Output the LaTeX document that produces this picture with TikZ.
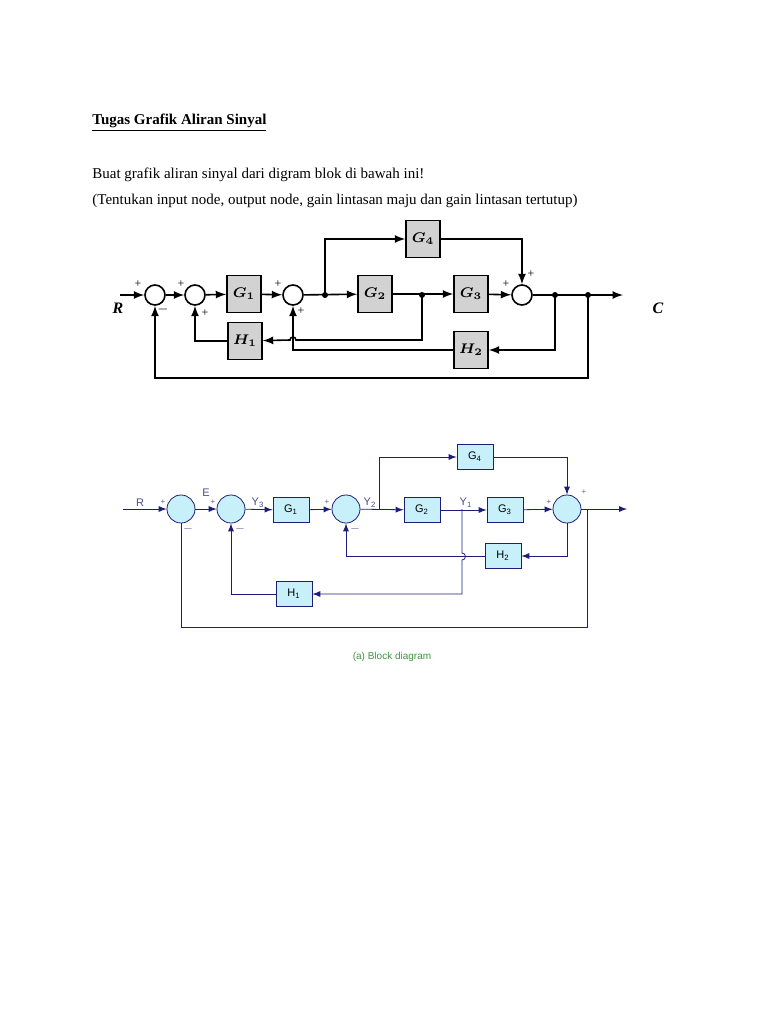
\documentclass[tikz,border=0pt]{standalone}
\usepackage{fontspec}
\setmainfont{Liberation Serif}
\newfontfamily\sansf{Liberation Sans}
\usetikzlibrary{arrows}
\definecolor{navy}{RGB}{30,30,120}
\definecolor{lcyan}{RGB}{200,240,250}
\definecolor{capgreen}{RGB}{60,150,60}
\tikzset{
    sumA/.style={circle,draw=black,thick,minimum size=10pt,inner sep=0pt},
    blkA/.style={draw=black,thick,fill=gray!35,minimum width=17pt,minimum height=18.5pt,inner sep=0pt,font=\boldmath\fontsize{7}{8}\selectfont},
    sigA/.style={black,thick,-latex},
    lnA/.style={black,thick},
    sumB/.style={circle,draw=navy,fill=lcyan,minimum size=14pt,inner sep=0pt},
    blkB/.style={draw=navy,fill=lcyan,minimum width=18pt,minimum height=12.5pt,inner sep=0pt,font=\sansf\fontsize{5.5}{6}\selectfont},
    sigB/.style={navy,-latex},
    lnB/.style={navy},
    sgn/.style={inner sep=0pt,font=\fontsize{6}{6}\selectfont},
    sgnB/.style={inner sep=0pt,font=\sansf\fontsize{4}{4}\selectfont,text=navy!70},
    lblB/.style={inner sep=0pt,font=\sansf\fontsize{5.5}{6}\selectfont,text=navy!80}
}
\begin{document}
\begin{tikzpicture}[x=0.5pt,y=-0.5pt]
\useasboundingbox (0,0) rectangle (768,1024);
\fill[white] (0,0) rectangle (768,1024);

% texts
\node[anchor=base west,inner sep=0pt,font=\bfseries\fontsize{7.5}{8}\selectfont] (title) at (92,124) {\underline{Tugas Grafik Aliran Sinyal}};
\node[anchor=base west,inner sep=0pt,font=\fontsize{7.5}{8}\selectfont] (line1) at (92,178) {Buat grafik aliran sinyal dari digram blok di bawah ini!};
\node[anchor=base west,inner sep=0pt,font=\fontsize{7.5}{8}\selectfont] (line2) at (92,204) {(Tentukan input node, output node, gain lintasan maju dan gain lintasan tertutup)};

% upper diagram
\node[sumA] (a1) at (155,295) {};
\node[sumA] (a2) at (195,295) {};
\node[sumA] (a3) at (293,295) {};
\node[sumA] (a4) at (522,295) {};
\node[blkA] (ag1) at (244,294) {$G_1$};
\node[blkA] (ag2) at (375,294) {$G_2$};
\node[blkA] (ag3) at (471,294) {$G_3$};
\node[blkA] (ag4) at (423,239) {$G_4$};
\node[blkA] (ah1) at (245,341) {$H_1$};
\node[blkA] (ah2) at (471,350) {$H_2$};
\coordinate (aR) at (120,295);
\coordinate (aC) at (623,295);
\coordinate (ab1) at (325,295);
\coordinate (ab2) at (422,295);
\coordinate (ab3) at (555,295);
\coordinate (ab4) at (588,295);
\node[inner sep=0pt,font=\bfseries\itshape\fontsize{8}{8}\selectfont] (lR) at (118,308) {R};
\node[inner sep=0pt,font=\bfseries\itshape\fontsize{8}{8}\selectfont] (lC) at (658,308) {C};

\draw[sigA] (aR) -- (a1);
\draw[sigA] (a1) -- (a2);
\draw[sigA] (a2) -- (ag1);
\draw[sigA] (ag1) -- (a3);
\draw[sigA] (a3) -- (ag2);
\draw[sigA] (ag2) -- (ag3);
\draw[sigA] (ag3) -- (a4);
\draw[sigA] (a4) -- (aC);
\draw[sigA] (ab1) |- (ag4);
\draw[sigA] (ag4) -| (a4);
\draw[sigA] (ab2) |- (296,340) arc (0:-180:3) -- (ah1);
\draw[sigA] (ah1) -| (a2);
\draw[sigA] (ab3) |- (ah2);
\draw[sigA] (ah2) -| (a3);
\draw[sigA] (ab4) |- (155,378) -- (a1);
\foreach \p in {ab1,ab2,ab3,ab4} \fill (\p) circle (3);

\node[sgn] (sa1) at (138,284) {+};
\node[sgn] (sa2) at (163,309) {$-$};
\node[sgn] (sa3) at (181,284) {+};
\node[sgn] (sa4) at (205,313) {+};
\node[sgn] (sa5) at (278,284) {+};
\node[sgn] (sa6) at (301,311) {+};
\node[sgn] (sa7) at (506,284) {+};
\node[sgn] (sa8) at (531,274) {+};

% lower diagram
\node[sumB] (b1) at (181,509) {};
\node[sumB] (b2) at (231,509) {};
\node[sumB] (b3) at (346,509) {};
\node[sumB] (b4) at (567,509) {};
\node[blkB] (bg1) at (291,510) {G\textsubscript{1}};
\node[blkB] (bg2) at (422,510) {G\textsubscript{2}};
\node[blkB] (bg3) at (505,510) {G\textsubscript{3}};
\node[blkB] (bg4) at (475,457) {G\textsubscript{4}};
\node[blkB] (bh2) at (503,556) {H\textsubscript{2}};
\node[blkB] (bh1) at (294,594) {H\textsubscript{1}};
\coordinate (bR) at (123,509);
\coordinate (bO) at (627,509);
\coordinate (bb1) at (379,509);
\coordinate (bb2) at (462,509);
\coordinate (bb3) at (587,509);

\draw[sigB] (bR) -- (b1);
\draw[sigB] (b1) -- (b2);
\draw[sigB] (b2) -- (bg1);
\draw[sigB] (bg1) -- (b3);
\draw[sigB] (b3) -- (bg2);
\draw[sigB] (bg2) -- (bg3);
\draw[sigB] (bg3) -- (b4);
\draw[sigB] (b4) -- (bO);
\draw[sigB] (bb1) |- (bg4);
\draw[sigB] (bg4) -| (b4);
\draw[sigB] (b4) |- (bh2);
\draw[sigB] (bh2) -| (b3);
\draw[sigB] (bb2) -- (462,553) arc (-90:90:3.5) |- (bh1);
\draw[sigB] (bh1) -| (b2);
\draw[lnB] (bb3) |- (181,627) -- (b1);

\node[lblB] (lr) at (140,503) {R};
\node[lblB] (le) at (206,493) {E};
\node[lblB] (ly3) at (258,503) {Y\textsubscript{3}};
\node[lblB] (ly2) at (370,503) {Y\textsubscript{2}};
\node[lblB] (ly1) at (466,503) {Y\textsubscript{1}};
\node[sgnB] (sb1) at (163,502) {+};
\node[sgnB] (sb2) at (188,529) {$-$};
\node[sgnB] (sb3) at (213,502) {+};
\node[sgnB] (sb4) at (240,529) {$-$};
\node[sgnB] (sb5) at (327,502) {+};
\node[sgnB] (sb6) at (355,529) {$-$};
\node[sgnB] (sb7) at (549,502) {+};
\node[sgnB] (sb8) at (584,492) {+};
\node[inner sep=0pt,font=\sansf\fontsize{5}{6}\selectfont,text=capgreen] (cap) at (392,657) {(a) Block diagram};
\end{tikzpicture}
\end{document}
